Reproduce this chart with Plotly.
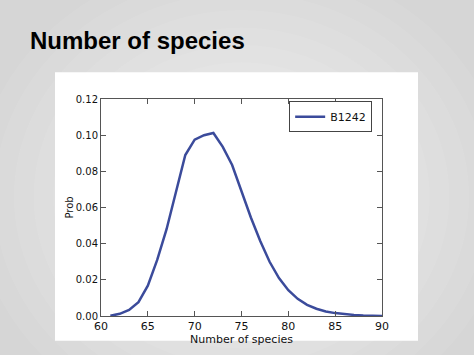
import plotly.graph_objects as go

species = [61, 62, 63, 64, 65, 66, 67, 68, 69, 70, 71, 72, 73, 74, 75, 76, 77, 78, 79, 80, 81, 82, 83, 84, 85, 86, 87, 88, 89, 90]
prob = [0.0001, 0.0012, 0.0033, 0.0077, 0.0168, 0.031, 0.048, 0.069, 0.089, 0.0975, 0.1000, 0.1012, 0.0935, 0.0835, 0.0685, 0.0545, 0.0415, 0.0300, 0.0210, 0.0143, 0.0095, 0.0062, 0.0040, 0.0025, 0.0016, 0.0010, 0.0006, 0.0003, 0.0001, 0.0000]
series_name = "B1242"
x_ticks = [60, 65, 70, 75, 80, 85, 90]
y_ticks = [0.00, 0.02, 0.04, 0.06, 0.08, 0.10, 0.12]

fig = go.Figure()
fig.add_trace(go.Scatter(x=species, y=prob, mode="lines", name=series_name,
                         line=dict(color="#3b4b9b", width=2.5)))

shapes = []
# background radial-ish gradient
for i in range(12):
    shapes.append(dict(type="circle", xref="paper", yref="paper",
                       x0=0.5 - 0.95 + i * 0.07, x1=0.5 + 0.95 - i * 0.07,
                       y0=0.55 - 1.1 + i * 0.08, y1=0.55 + 1.1 - i * 0.08,
                       fillcolor="rgba(255,255,255,0.07)", line=dict(width=0), layer="below"))
# white panel
shapes.append(dict(type="rect", xref="paper", yref="paper",
                   x0=(55 - 101) / 281, x1=(418 - 101) / 281,
                   y0=-(343 - 318) / 219, y1=(318 - 72) / 219,
                   fillcolor="white", line=dict(width=0), layer="below"))

axis_common = dict(showgrid=False, zeroline=False, showline=True, linecolor="#555555", linewidth=1,
                   mirror="ticks", ticks="inside", ticklen=5, tickcolor="#555555")

fig.update_layout(
    width=474, height=355,
    margin=dict(l=101, r=92, t=99, b=37),
    paper_bgcolor="#d6d6d6", plot_bgcolor="white",
    shapes=shapes,
    showlegend=True,
    legend=dict(x=0.965, y=0.99, xanchor="right", yanchor="top", bgcolor="white",
                bordercolor="#444444", borderwidth=1, itemwidth=30,
                font=dict(family="DejaVu Sans", size=11, color="#111111")),
    xaxis=dict(range=[60, 90], tickvals=x_ticks, ticktext=[str(v) for v in x_ticks],
               tickfont=dict(family="DejaVu Sans", size=11, color="#111111"),
               title=dict(text="Number of species", font=dict(family="DejaVu Sans", size=11, color="#111111"), standoff=2),
               **axis_common),
    yaxis=dict(range=[0, 0.12], tickvals=y_ticks, ticktext=["%.2f" % v for v in y_ticks],
               tickfont=dict(family="DejaVu Sans", size=10, color="#111111"),
               title=dict(text="Prob", font=dict(family="DejaVu Sans", size=10, color="#111111"), standoff=0),
               **axis_common),
    annotations=[dict(text="<b>Number of species</b>", xref="paper", yref="paper",
                      x=(28 - 101) / 281, y=(318 - 56) / 219, xanchor="left", yanchor="bottom",
                      showarrow=False, font=dict(family="Liberation Sans", size=24, color="black"))],
)

fig.write_html("out.html", config={"displayModeBar": False},
               post_script="document.body.style.margin='0px';document.body.style.overflow='hidden';")
